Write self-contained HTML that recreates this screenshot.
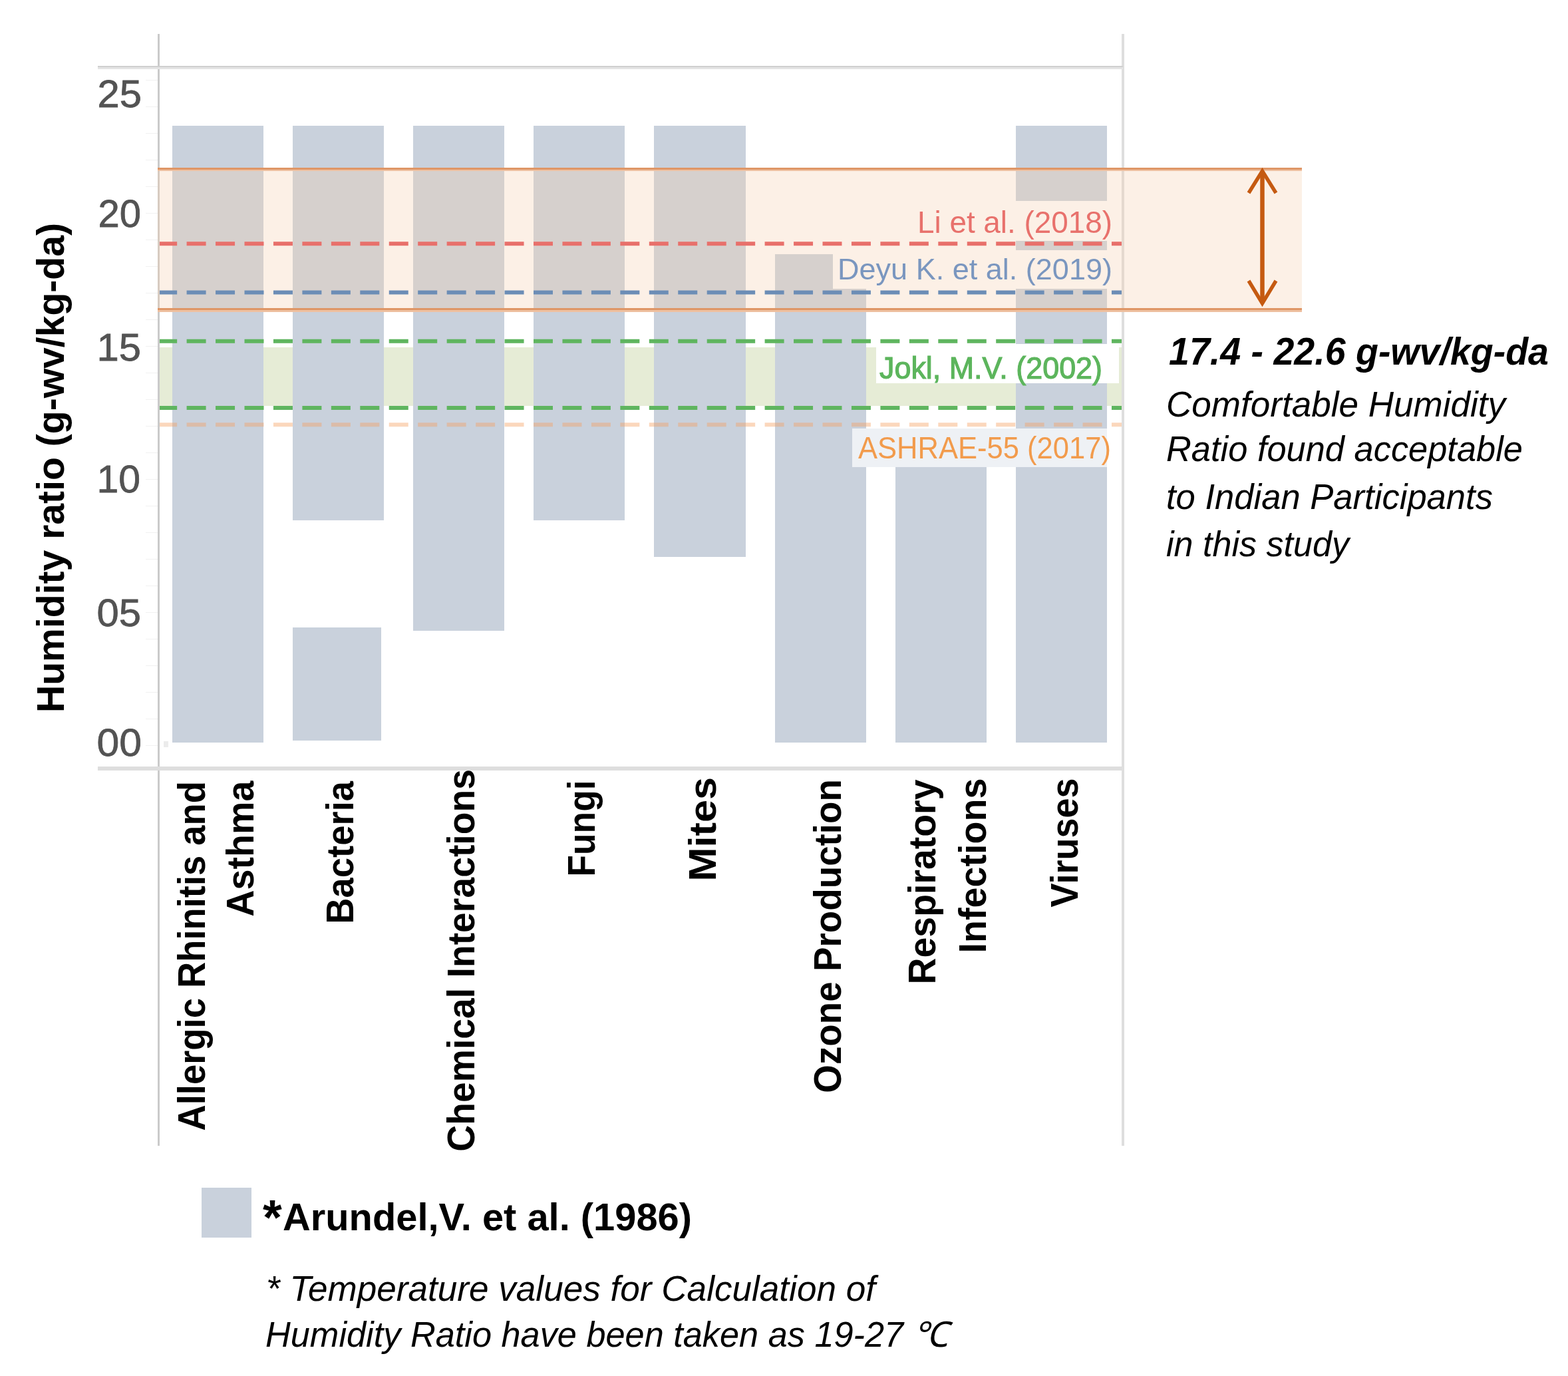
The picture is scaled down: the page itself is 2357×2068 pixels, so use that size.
<!DOCTYPE html>
<html><head><meta charset="utf-8"><title>Humidity ratio chart</title>
<style>html,body{margin:0;padding:0;background:#fff;overflow:hidden;}svg{display:block;}</style>
</head><body>
<svg width="2357" height="2068" viewBox="0 0 2357 2068">
<rect x="219" y="120" width="18" height="1" fill="#f1f1f1"/>
<rect x="219" y="160" width="18" height="1" fill="#f1f1f1"/>
<rect x="219" y="200" width="18" height="1" fill="#f1f1f1"/>
<rect x="219" y="240" width="18" height="1" fill="#f1f1f1"/>
<rect x="219" y="280" width="18" height="1" fill="#f1f1f1"/>
<rect x="219" y="320" width="18" height="1" fill="#f1f1f1"/>
<rect x="219" y="360" width="18" height="1" fill="#f1f1f1"/>
<rect x="219" y="400" width="18" height="1" fill="#f1f1f1"/>
<rect x="219" y="440" width="18" height="1" fill="#f1f1f1"/>
<rect x="219" y="480" width="18" height="1" fill="#f1f1f1"/>
<rect x="219" y="520" width="18" height="1" fill="#f1f1f1"/>
<rect x="219" y="560" width="18" height="1" fill="#f1f1f1"/>
<rect x="219" y="600" width="18" height="1" fill="#f1f1f1"/>
<rect x="219" y="640" width="18" height="1" fill="#f1f1f1"/>
<rect x="219" y="680" width="18" height="1" fill="#f1f1f1"/>
<rect x="219" y="720" width="18" height="1" fill="#f1f1f1"/>
<rect x="219" y="760" width="18" height="1" fill="#f1f1f1"/>
<rect x="219" y="800" width="18" height="1" fill="#f1f1f1"/>
<rect x="219" y="840" width="18" height="1" fill="#f1f1f1"/>
<rect x="219" y="880" width="18" height="1" fill="#f1f1f1"/>
<rect x="219" y="920" width="18" height="1" fill="#f1f1f1"/>
<rect x="219" y="960" width="18" height="1" fill="#f1f1f1"/>
<rect x="219" y="1000" width="18" height="1" fill="#f1f1f1"/>
<rect x="219" y="1040" width="18" height="1" fill="#f1f1f1"/>
<rect x="219" y="1080" width="18" height="1" fill="#f1f1f1"/>
<rect x="219" y="1120" width="18" height="1" fill="#f1f1f1"/>
<rect x="246" y="1114" width="7" height="9" fill="#ececec"/>
<rect x="240" y="522" width="1446" height="88" fill="#e6ecd6"/>
<rect x="259" y="189" width="137" height="927" fill="#c9d1dc"/>
<rect x="440" y="189" width="137" height="593" fill="#c9d1dc"/>
<rect x="440" y="943" width="133" height="170" fill="#c9d1dc"/>
<rect x="621" y="189" width="137" height="759" fill="#c9d1dc"/>
<rect x="802" y="189" width="137" height="593" fill="#c9d1dc"/>
<rect x="983" y="189" width="138" height="648" fill="#c9d1dc"/>
<rect x="1165" y="382" width="137" height="734" fill="#c9d1dc"/>
<rect x="1346" y="702" width="137" height="414" fill="#c9d1dc"/>
<rect x="1527" y="189" width="137" height="927" fill="#c9d1dc"/>
<rect x="237" y="51" width="3" height="1671" fill="#cacaca"/>
<rect x="1686" y="51" width="4" height="1671" fill="#dedede"/>
<rect x="147" y="99" width="1541" height="2" fill="#cfcfcf"/>
<rect x="147" y="101" width="1541" height="3" fill="#e4e4e4"/>
<rect x="147" y="1152" width="1541" height="6" fill="#dedede"/>
<rect x="1300" y="302" width="364" height="60" fill="#ffffff"/>
<rect x="1252" y="376" width="412" height="58" fill="#ffffff"/>
<rect x="237" y="255" width="1720" height="209" fill="rgb(246,206,172)" fill-opacity="0.3"/>
<rect x="237" y="252" width="1720" height="3" fill="#df9666"/>
<rect x="237" y="255" width="1720" height="2" fill="#eec0a0"/>
<rect x="237" y="463" width="1720" height="3" fill="#df9666"/>
<rect x="237" y="466" width="1720" height="3" fill="#eec0a0"/>
<rect x="1317" y="517" width="365" height="59" fill="#ffffff"/>
<rect x="1281" y="644" width="383" height="58" fill="#eef1f5"/>
<line x1="240" y1="366.2" x2="1686" y2="366.2" stroke="#e8706b" stroke-width="6" stroke-dasharray="29 14.45" stroke-dashoffset="2.85" stroke-opacity="1.0"/>
<line x1="240" y1="439.5" x2="1686" y2="439.5" stroke="#6c8db6" stroke-width="6" stroke-dasharray="29 14.45" stroke-dashoffset="2.85" stroke-opacity="1.0"/>
<line x1="240" y1="512.8" x2="1686" y2="512.8" stroke="#5fb55f" stroke-width="6" stroke-dasharray="29 14.45" stroke-dashoffset="2.85" stroke-opacity="1.0"/>
<line x1="240" y1="613" x2="1686" y2="613" stroke="#5fb55f" stroke-width="6" stroke-dasharray="29 14.45" stroke-dashoffset="2.85" stroke-opacity="1.0"/>
<line x1="240" y1="638.2" x2="1686" y2="638.2" stroke="rgb(245,160,95)" stroke-width="6" stroke-dasharray="29 14.45" stroke-dashoffset="2.85" stroke-opacity="0.42"/>
<g stroke="#c55a11" fill="none" stroke-linecap="butt"><line x1="1897.5" y1="258" x2="1897.5" y2="456" stroke-width="6.5"/><polyline points="1877,290 1897.5,257 1918,290" stroke-width="5.5" stroke-linejoin="miter"/><polyline points="1877,422 1897.5,456 1918,422" stroke-width="5.5" stroke-linejoin="miter"/></g>
<text x="146.5" y="161" font-family="'Liberation Sans', Arial, sans-serif" font-size="58" font-weight="normal" font-style="normal" fill="#535353" text-anchor="start" textLength="66.5" lengthAdjust="spacingAndGlyphs" stroke="#535353" stroke-width="0.8">25</text>
<text x="147.5" y="341" font-family="'Liberation Sans', Arial, sans-serif" font-size="58" font-weight="normal" font-style="normal" fill="#535353" text-anchor="start" textLength="64.5" lengthAdjust="spacingAndGlyphs" stroke="#535353" stroke-width="0.8">20</text>
<text x="145.5" y="541.7" font-family="'Liberation Sans', Arial, sans-serif" font-size="58" font-weight="normal" font-style="normal" fill="#535353" text-anchor="start" textLength="66.5" lengthAdjust="spacingAndGlyphs" stroke="#535353" stroke-width="0.8">15</text>
<text x="145.5" y="740" font-family="'Liberation Sans', Arial, sans-serif" font-size="58" font-weight="normal" font-style="normal" fill="#535353" text-anchor="start" textLength="65.5" lengthAdjust="spacingAndGlyphs" stroke="#535353" stroke-width="0.8">10</text>
<text x="145.5" y="940.6" font-family="'Liberation Sans', Arial, sans-serif" font-size="58" font-weight="normal" font-style="normal" fill="#535353" text-anchor="start" textLength="66.5" lengthAdjust="spacingAndGlyphs" stroke="#535353" stroke-width="0.8">05</text>
<text x="145.5" y="1135.6" font-family="'Liberation Sans', Arial, sans-serif" font-size="58" font-weight="normal" font-style="normal" fill="#535353" text-anchor="start" textLength="67.5" lengthAdjust="spacingAndGlyphs" stroke="#535353" stroke-width="0.8">00</text>
<text x="1672" y="349.5" font-family="'Liberation Sans', Arial, sans-serif" font-size="47" font-weight="normal" font-style="normal" fill="#e8716c" text-anchor="end" textLength="293" lengthAdjust="spacingAndGlyphs">Li et al. (2018)</text>
<text x="1672" y="420" font-family="'Liberation Sans', Arial, sans-serif" font-size="45" font-weight="normal" font-style="normal" fill="#7a96bf" text-anchor="end" textLength="413" lengthAdjust="spacingAndGlyphs">Deyu K. et al. (2019)</text>
<text x="1657" y="569" font-family="'Liberation Sans', Arial, sans-serif" font-size="46" font-weight="normal" font-style="normal" fill="#5cb55c" text-anchor="end" textLength="335" lengthAdjust="spacingAndGlyphs" stroke="#5cb55c" stroke-width="1.2">Jokl, M.V. (2002)</text>
<text x="1670" y="689" font-family="'Liberation Sans', Arial, sans-serif" font-size="47" font-weight="normal" font-style="normal" fill="#f29b4c" text-anchor="end" textLength="380" lengthAdjust="spacingAndGlyphs">ASHRAE-55 (2017)</text>
<text transform="translate(96,1071) rotate(-90)" font-family="'Liberation Sans', Arial, sans-serif" font-size="57" font-weight="bold" fill="#000" textLength="736" lengthAdjust="spacingAndGlyphs">Humidity ratio (g-wv/kg-da)</text>
<text transform="translate(308,1699.5) rotate(-90)" font-family="'Liberation Sans', Arial, sans-serif" font-size="58" font-weight="bold" fill="#000" textLength="525.5" lengthAdjust="spacingAndGlyphs">Allergic Rhinitis and</text>
<text transform="translate(380.5,1377.8) rotate(-90)" font-family="'Liberation Sans', Arial, sans-serif" font-size="58" font-weight="bold" fill="#000" textLength="204.3" lengthAdjust="spacingAndGlyphs">Asthma</text>
<text transform="translate(531,1388.8) rotate(-90)" font-family="'Liberation Sans', Arial, sans-serif" font-size="58" font-weight="bold" fill="#000" textLength="214.9" lengthAdjust="spacingAndGlyphs">Bacteria</text>
<text transform="translate(712.5,1730.7) rotate(-90)" font-family="'Liberation Sans', Arial, sans-serif" font-size="58" font-weight="bold" fill="#000" textLength="574.7" lengthAdjust="spacingAndGlyphs">Chemical Interactions</text>
<text transform="translate(894,1317.5) rotate(-90)" font-family="'Liberation Sans', Arial, sans-serif" font-size="58" font-weight="bold" fill="#000" textLength="145" lengthAdjust="spacingAndGlyphs">Fungi</text>
<text transform="translate(1076,1324.5) rotate(-90)" font-family="'Liberation Sans', Arial, sans-serif" font-size="58" font-weight="bold" fill="#000" textLength="156.7" lengthAdjust="spacingAndGlyphs">Mites</text>
<text transform="translate(1264,1642.7) rotate(-90)" font-family="'Liberation Sans', Arial, sans-serif" font-size="58" font-weight="bold" fill="#000" textLength="471.7" lengthAdjust="spacingAndGlyphs">Ozone Production</text>
<text transform="translate(1406,1479.5) rotate(-90)" font-family="'Liberation Sans', Arial, sans-serif" font-size="58" font-weight="bold" fill="#000" textLength="308" lengthAdjust="spacingAndGlyphs">Respiratory</text>
<text transform="translate(1482,1432.5) rotate(-90)" font-family="'Liberation Sans', Arial, sans-serif" font-size="58" font-weight="bold" fill="#000" textLength="263" lengthAdjust="spacingAndGlyphs">Infections</text>
<text transform="translate(1620,1363.5) rotate(-90)" font-family="'Liberation Sans', Arial, sans-serif" font-size="58" font-weight="bold" fill="#000" textLength="194" lengthAdjust="spacingAndGlyphs">Viruses</text>
<text x="1757" y="547.5" font-family="'Liberation Sans', Arial, sans-serif" font-size="57" font-weight="bold" font-style="italic" fill="#000" text-anchor="start" textLength="571" lengthAdjust="spacingAndGlyphs">17.4 - 22.6 g-wv/kg-da</text>
<text x="1753" y="626" font-family="'Liberation Sans', Arial, sans-serif" font-size="53" font-weight="normal" font-style="italic" fill="#000" text-anchor="start" textLength="510" lengthAdjust="spacingAndGlyphs">Comfortable Humidity</text>
<text x="1753" y="693" font-family="'Liberation Sans', Arial, sans-serif" font-size="53" font-weight="normal" font-style="italic" fill="#000" text-anchor="start" textLength="536" lengthAdjust="spacingAndGlyphs">Ratio found acceptable</text>
<text x="1753" y="765" font-family="'Liberation Sans', Arial, sans-serif" font-size="53" font-weight="normal" font-style="italic" fill="#000" text-anchor="start" textLength="491" lengthAdjust="spacingAndGlyphs">to Indian Participants</text>
<text x="1753" y="836" font-family="'Liberation Sans', Arial, sans-serif" font-size="53" font-weight="normal" font-style="italic" fill="#000" text-anchor="start" textLength="275" lengthAdjust="spacingAndGlyphs">in this study</text>
<rect x="303" y="1785" width="75" height="75" fill="#c9d1dc"/>
<text x="395" y="1854.5" font-family="'Liberation Sans', Arial, sans-serif" font-size="74" font-weight="bold" font-style="normal" fill="#000" text-anchor="start">*</text>
<text x="425" y="1849" font-family="'Liberation Sans', Arial, sans-serif" font-size="58" font-weight="bold" font-style="normal" fill="#000" text-anchor="start" textLength="615" lengthAdjust="spacingAndGlyphs">Arundel,V. et al. (1986)</text>
<text x="400" y="1955" font-family="'Liberation Sans', Arial, sans-serif" font-size="53" font-weight="normal" font-style="italic" fill="#000" text-anchor="start" textLength="916" lengthAdjust="spacingAndGlyphs">* Temperature values for Calculation of</text>
<text x="399" y="2024" font-family="'Liberation Sans', Arial, sans-serif" font-size="53" font-weight="normal" font-style="italic" fill="#000" text-anchor="start" textLength="1026" lengthAdjust="spacingAndGlyphs">Humidity Ratio have been taken as 19-27 ℃</text>
</svg>
</body></html>
